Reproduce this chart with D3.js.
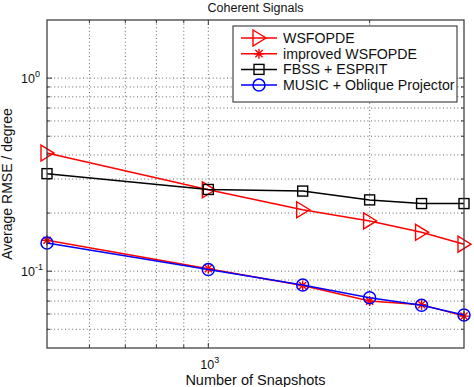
<!DOCTYPE html>
<html>
<head>
<meta charset="utf-8">
<script src="https://cdn.jsdelivr.net/npm/d3@7"></script>
<style>
  body { margin: 0; background: #fff; }
  text { font-family: "Liberation Sans", Arial, Helvetica, sans-serif; fill: #111; }
</style>
</head>
<body>
<div id="chart"></div>
<script>
// data
var snapshots = [500, 1000, 1500, 2000, 2500, 3000];
var wsfopde = [0.409, 0.264, 0.208, 0.182, 0.159, 0.138];
var improvedWsfopde = [0.1446, 0.103, 0.0843, 0.070, 0.0671, 0.0585];
var fbssEsprit = [0.320, 0.265, 0.260, 0.234, 0.224, 0.224];
var musicOblique = [0.140, 0.102, 0.0848, 0.0729, 0.0666, 0.0593];
var seriesNames = ["WSFOPDE", "improved WSFOPDE", "FBSS + ESPRIT", "MUSIC + Oblique Projector"];
var xTicks = [1000];
var yTicks = [1, 0.1];
var xMinor = [600, 700, 800, 900, 2000];
var yMinor = [0.05, 0.06, 0.07, 0.08, 0.09, 0.2, 0.3, 0.4, 0.5, 0.6, 0.7, 0.8, 0.9];

var W = 474, H = 387;
var margin = {top: 20, right: 10, bottom: 39, left: 47},
    width = W - margin.left - margin.right,
    height = H - margin.top - margin.bottom;

var series = [
  {name: seriesNames[0], values: wsfopde, color: "#f00", marker: "triangle"},
  {name: seriesNames[1], values: improvedWsfopde, color: "#f00", marker: "star"},
  {name: seriesNames[2], values: fbssEsprit, color: "#000", marker: "square"},
  {name: seriesNames[3], values: musicOblique, color: "#00f", marker: "circle"}
];

var svg = d3.select("#chart")
  .append("svg")
    .attr("width", W)
    .attr("height", H)
  .append("g")
    .attr("transform", "translate(" + margin.left + "," + margin.top + ")");

var x = d3.scaleLog().domain([500, 3000]).range([0, width]);
var y = d3.scaleLog().domain([0.04, 2]).range([height, 0]);

// grid (dotted, major + minor)
var grid = svg.append("g").attr("class", "grid");
grid.selectAll(".gx")
  .data(xTicks.concat(xMinor))
  .enter().append("line")
    .attr("x1", function(d) { return x(d); })
    .attr("x2", function(d) { return x(d); })
    .attr("y1", 0).attr("y2", height)
    .attr("stroke", "#555").attr("stroke-width", 0.9)
    .attr("stroke-dasharray", "1,2.6");
grid.selectAll(".gy")
  .data(yTicks.concat(yMinor))
  .enter().append("line")
    .attr("y1", function(d) { return y(d); })
    .attr("y2", function(d) { return y(d); })
    .attr("x1", 0).attr("x2", width)
    .attr("stroke", "#555").attr("stroke-width", 0.9)
    .attr("stroke-dasharray", "1,2.6");

// inward ticks on all four sides
var ticks = svg.append("g").attr("stroke", "#333").attr("stroke-width", 1);
xTicks.concat(xMinor).forEach(function(d) {
  var len = xTicks.indexOf(d) >= 0 ? 5 : 3;
  ticks.append("line").attr("x1", x(d)).attr("x2", x(d)).attr("y1", height).attr("y2", height - len);
  ticks.append("line").attr("x1", x(d)).attr("x2", x(d)).attr("y1", 0).attr("y2", len);
});
yTicks.concat(yMinor).forEach(function(d) {
  var len = yTicks.indexOf(d) >= 0 ? 5 : 3;
  ticks.append("line").attr("y1", y(d)).attr("y2", y(d)).attr("x1", 0).attr("x2", len);
  ticks.append("line").attr("y1", y(d)).attr("y2", y(d)).attr("x1", width).attr("x2", width - len);
});

// tick labels as 10^n
svg.selectAll(".xlab")
  .data(xTicks)
  .enter().append("text")
    .attr("x", function(d) { return x(d) - 8; })
    .attr("y", height + 21)
    .attr("font-size", 12.5)
    .each(function(d) {
      var t = d3.select(this);
      t.append("tspan").text("10");
      t.append("tspan").attr("dy", -6).attr("font-size", 9).text(Math.round(Math.log10(d)));
    });

svg.selectAll(".ylab")
  .data(yTicks)
  .enter().append("text")
    .attr("x", -26)
    .attr("y", function(d) { return y(d) + 5; })
    .attr("font-size", 12.5)
    .each(function(d) {
      var t = d3.select(this);
      t.append("tspan").text("10");
      t.append("tspan").attr("dy", -6).attr("font-size", 9).text(Math.round(Math.log10(d)));
    });

// lines + markers
var line = d3.line()
  .x(function(d, i) { return x(snapshots[i]); })
  .y(function(d) { return y(d); });

function drawMarker(g, type, color) {
  if (type == "triangle") {
    g.append("path").attr("d", "M-6,-8L7,0L-6,8Z")
      .attr("fill", "none").attr("stroke", color).attr("stroke-width", 1.4);
  } else if (type == "star") {
    g.append("path").attr("d", "M-5,0H5M0,-5V5M-3.6,-3.6L3.6,3.6M-3.6,3.6L3.6,-3.6")
      .attr("stroke", color).attr("stroke-width", 1.4);
  } else if (type == "square") {
    g.append("rect").attr("x", -5).attr("y", -5).attr("width", 10).attr("height", 10)
      .attr("fill", "none").attr("stroke", color).attr("stroke-width", 1.4);
  } else {
    g.append("circle").attr("r", 6)
      .attr("fill", "none").attr("stroke", color).attr("stroke-width", 1.5);
  }
}

series.forEach(function(s) {
  svg.append("path")
    .datum(s.values)
    .attr("d", line)
    .attr("fill", "none")
    .attr("stroke", s.color)
    .attr("stroke-width", 1.5);
  s.values.forEach(function(v, i) {
    var g = svg.append("g").attr("transform", "translate(" + x(snapshots[i]) + "," + y(v) + ")");
    drawMarker(g, s.marker, s.color);
  });
});

// axes box
svg.append("rect")
  .attr("width", width).attr("height", height)
  .attr("fill", "none").attr("stroke", "#333").attr("stroke-width", 1.2);

// legend
var lg = svg.append("g").attr("transform", "translate(186,6)");
lg.append("rect").attr("width", 224).attr("height", 76)
  .attr("fill", "#fff").attr("stroke", "#222").attr("stroke-width", 1);
series.forEach(function(s, i) {
  var ry = 12 + i * 15.7;
  lg.append("line").attr("x1", 8).attr("x2", 44).attr("y1", ry).attr("y2", ry)
    .attr("stroke", s.color).attr("stroke-width", 1.5);
  drawMarker(lg.append("g").attr("transform", "translate(26," + ry + ")"), s.marker, s.color);
  lg.append("text").attr("x", 50).attr("y", ry + 5).attr("font-size", 14.2).text(s.name);
});

// titles
svg.append("text")
  .attr("x", width / 2).attr("y", -8)
  .attr("text-anchor", "middle").attr("font-size", 12.5)
  .text("Coherent Signals");

svg.append("text")
  .attr("x", width / 2).attr("y", height + 37)
  .attr("text-anchor", "middle").attr("font-size", 14.5)
  .text("Number of Snapshots");

svg.append("text")
  .attr("transform", "translate(-35," + (height / 2) + ") rotate(-90)")
  .attr("text-anchor", "middle").attr("font-size", 14)
  .text("Average RMSE / degree");
</script>
</body>
</html>
